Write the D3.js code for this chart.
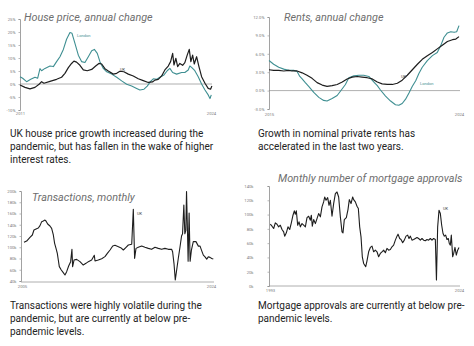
<!DOCTYPE html>
<html><head><meta charset="utf-8">
<script src="https://cdn.jsdelivr.net/npm/d3@7"></script>
<style>
html,body{margin:0;padding:0;background:#fff;}
svg{display:block;}
</style></head>
<body>
<svg id="c" width="474" height="346"></svg>
<script>
// ---------- DATA ----------
// Panel 1: house price annual change (%)
const hpUKYears = [2011.0,2011.34,2011.68,2012.02,2012.32,2012.47,2012.63,2013.04,2013.49,2013.83,2014.06,2014.29,2014.51,2014.67,2014.85,2015.08,2015.31,2015.58,2015.88,2016.15,2016.37,2016.56,2016.78,2017.01,2017.35,2017.58,2017.8,2018.07,2018.37,2018.71,2019.05,2019.39,2019.73,2020.02,2020.18,2020.41,2020.64,2020.86,2021.09,2021.25,2021.39,2021.48,2021.61,2021.73,2021.88,2022.07,2022.22,2022.38,2022.52,2022.63,2022.75,2022.86,2023.02,2023.18,2023.36,2023.59,2023.81,2023.97,2024.06];
const hpUK = [-0.4,-1.3,-1.9,-1.3,0.0,0.9,0.3,1.0,1.8,2.6,4.1,6.3,7.9,8.8,8.4,7.2,5.4,5.1,5.6,6.9,7.9,7.7,5.9,5.0,3.8,4.1,4.9,4.7,3.8,3.1,2.0,1.3,0.6,0.8,1.5,1.8,3.1,5.4,6.9,8.6,11.8,7.3,9.9,6.7,7.9,7.2,8.2,11.1,13.3,8.6,11.1,7.7,10.5,6.7,2.8,0.3,-1.7,-2.0,-0.8];
const hpLondonYears = [2011.0,2011.18,2011.45,2011.73,2012.02,2012.2,2012.36,2012.47,2012.7,2013.04,2013.27,2013.49,2013.72,2013.95,2014.17,2014.4,2014.54,2014.74,2014.97,2015.2,2015.42,2015.65,2015.88,2016.06,2016.26,2016.44,2016.67,2016.9,2017.24,2017.58,2017.92,2018.26,2018.6,2018.94,2019.16,2019.44,2019.66,2019.89,2020.07,2020.3,2020.52,2020.8,2021.02,2021.2,2021.39,2021.66,2022.0,2022.22,2022.45,2022.56,2022.68,2022.9,2023.13,2023.36,2023.59,2023.81,2023.93,2024.02];
const hpLondon = [2.8,2.2,0.9,1.8,2.6,2.2,5.9,5.1,6.0,6.9,6.7,8.6,10.5,13.3,17.2,19.8,19.5,15.6,11.1,8.6,8.3,10.5,12.8,13.3,11.8,8.6,6.0,4.7,3.8,2.6,1.2,-0.1,-0.8,-1.7,-2.3,-2.0,-0.8,1.0,2.0,1.8,2.6,3.5,5.1,6.0,4.4,3.8,4.4,4.4,5.4,6.9,6.4,5.1,2.8,0.0,-2.3,-4.2,-5.6,-4.2];
const hpTicks = [-10,-5,0,5,10,15,20,25];
const hpYearTicks = [2011,2024];

// Panel 2: rents annual change (%)
const rentUKYears = [2015.0,2015.22,2015.46,2015.7,2015.93,2016.09,2016.33,2016.57,2016.8,2017.04,2017.28,2017.52,2017.75,2017.99,2018.23,2018.47,2018.7,2018.94,2019.18,2019.41,2019.65,2019.89,2020.13,2020.36,2020.6,2020.84,2021.08,2021.31,2021.55,2021.79,2022.03,2022.26,2022.5,2022.74,2022.97,2023.21,2023.45,2023.69,2023.85,2024.0];
const rentUK = [3.4,3.3,3.3,3.2,3.3,3.2,3.2,2.9,2.5,2.0,1.3,0.9,0.7,0.8,1.0,1.4,1.9,2.2,2.3,2.2,2.1,1.9,1.4,1.1,1.0,1.0,1.2,1.7,2.5,3.4,4.3,5.1,5.7,6.2,6.8,7.4,8.0,8.3,8.4,8.8];
const rentLondonYears = [2015.0,2015.22,2015.46,2015.7,2015.93,2016.17,2016.33,2016.46,2016.57,2016.72,2016.88,2017.12,2017.36,2017.59,2017.75,2017.99,2018.23,2018.47,2018.62,2018.78,2019.02,2019.26,2019.49,2019.73,2019.97,2020.13,2020.28,2020.52,2020.76,2020.99,2021.15,2021.31,2021.47,2021.63,2021.79,2021.95,2022.1,2022.26,2022.5,2022.74,2022.97,2023.13,2023.29,2023.45,2023.61,2023.77,2023.89,2024.0];
const rentLondon = [4.9,4.3,3.8,3.5,3.3,3.3,3.1,2.3,1.9,1.3,0.7,-0.3,-1.1,-1.6,-1.7,-1.3,-0.8,0.3,1.0,2.1,2.4,2.5,2.5,2.3,1.4,0.8,0.1,-0.9,-1.7,-2.3,-2.4,-2.1,-1.4,-0.4,0.7,1.6,2.8,3.8,4.9,5.7,6.2,7.3,8.7,9.4,9.6,9.5,9.6,10.6];
const rentTicks = [-3,0,3,6,9,12];
const rentYearTicks = [2015,2024];

// Panel 3: transactions, monthly (thousands)
const txYears = [2005.2,2005.47,2005.8,2006.04,2006.2,2006.47,2006.64,2006.81,2006.98,2007.14,2007.31,2007.41,2007.58,2007.81,2007.98,2008.15,2008.28,2008.42,2008.55,2008.65,2008.75,2008.95,2009.15,2009.32,2009.49,2009.69,2009.89,2010.02,2010.09,2010.23,2010.49,2010.83,2011.16,2011.43,2011.67,2012.0,2012.27,2012.34,2012.67,2013.01,2013.34,2013.58,2013.85,2014.12,2014.35,2014.69,2014.92,2015.19,2015.46,2015.69,2016.03,2016.19,2016.32,2016.46,2016.69,2017.03,2017.36,2017.7,2018.03,2018.37,2018.7,2019.04,2019.37,2019.71,2020.04,2020.14,2020.28,2020.41,2020.71,2020.88,2021.04,2021.14,2021.27,2021.37,2021.47,2021.54,2021.64,2021.7,2021.8,2021.9,2022.03,2022.22,2022.49,2022.73,2022.9,2023.06,2023.23,2023.4,2023.57,2023.73,2023.9,2024.07,2024.23];
const txValues = [108.7,111,117.6,121.8,130.7,133,134.2,138.4,145.5,146.7,148.4,146.7,141.3,137.8,133.6,121.8,107,98,89.2,77.3,65.5,59.6,54.8,50.7,56.6,66.7,74.4,96.3,65.5,77.3,78.5,74.4,68.4,71.4,74.4,77.3,85.6,75.6,77.3,79.7,83.3,89.2,95.1,102.2,103.4,101,99.3,95.1,99.9,104,105.2,167.4,80.3,98,99.9,102.2,99.9,98,96.3,99.9,98,96.3,98,96.3,96.3,92,71,42,80,100,120,124,175,124,130,199,125,75,161,75,95,110,110,102,102,94,86,83,79,83,82,80,79];
const txTicks = [40,60,80,100,120,140,160,180,200];
const txYearTicks = [2005,2024];

// Panel 4: monthly number of mortgage approvals (thousands)
const maYears = [1993.05,1993.33,1993.6,1993.87,1994.15,1994.42,1994.69,1994.97,1995.24,1995.41,1995.68,1995.95,1996.23,1996.5,1996.77,1996.99,1997.16,1997.32,1997.54,1997.76,1997.98,1998.25,1998.52,1998.8,1999.07,1999.34,1999.62,1999.78,1999.94,2000.16,2000.44,2000.71,2000.98,2001.26,2001.53,2001.8,2001.97,2002.19,2002.46,2002.68,2002.9,2003.17,2003.44,2003.72,2003.99,2004.26,2004.54,2004.81,2004.97,2005.19,2005.52,2005.79,2006.01,2006.29,2006.56,2006.72,2007.0,2007.27,2007.49,2007.71,2007.93,2008.14,2008.36,2008.7,2008.91,2009.18,2009.46,2009.73,2010.0,2010.28,2010.55,2010.82,2011.1,2011.37,2011.64,2011.92,2012.19,2012.46,2012.74,2013.01,2013.28,2013.56,2013.83,2014.0,2014.27,2014.49,2014.76,2015.03,2015.31,2015.58,2015.8,2016.02,2016.29,2016.56,2016.84,2017.11,2017.38,2017.66,2017.93,2018.2,2018.48,2018.75,2019.02,2019.3,2019.57,2019.84,2020.12,2020.3,2020.5,2020.72,2020.94,2021.16,2021.38,2021.59,2021.81,2022.03,2022.25,2022.41,2022.58,2022.74,2022.96,2023.13,2023.34,2023.56,2023.78,2024.0];
const maValues = [86.5,83.7,80.5,88.4,86.5,82.8,85.1,79.1,75.8,69.8,74.4,82.8,79.1,88.4,99.1,105.2,100.5,105.2,85.1,89.8,82.8,87.4,85.1,82.8,95.8,97.7,92.1,99.1,83.7,93,87.4,94.4,101.4,96.8,110.7,117.7,124.6,120,123.7,113,120,97.7,115.4,129.3,131.6,124.6,96.8,75.8,74.4,93,95.8,107,120.9,115.4,124.6,120.9,117.7,111.6,108.4,82.8,68.8,40.9,31.6,27,35.3,47.9,54,55.8,47.9,50.2,47.9,40.9,45.6,47.9,50.2,46.5,52.6,50.2,51.2,54.9,57.2,64.2,69.8,72.6,66.5,65.1,60.5,64.2,69.8,71.2,66.5,69.8,64.2,65.1,66.5,67.9,66.5,64.2,66.5,64.2,63.3,65.1,64.2,66.5,64.2,66.5,65.1,8.5,82.8,106,101.4,85.1,73.5,69.8,71.2,65.1,66.5,59.5,57.2,71.2,40.9,45.6,54,43.3,50.2,54];
const maTicks = [0,20,40,60,80,100,120,140];
const maYearTicks = [1993,2024];

// Text
const titles = ["House price, annual change","Rents, annual change","Transactions, monthly","Monthly number of mortgage approvals"];
const captions = [
  ["UK house price growth increased during the","pandemic, but has fallen in the wake of higher","interest rates."],
  ["Growth in nominal private rents has","accelerated in the last two years."],
  ["Transactions were highly volatile during the","pandemic, but are currently at below pre-","pandemic levels."],
  ["Mortgage approvals are currently at below pre-","pandemic levels."]
];

// ---------- DRAW ----------
const svg = d3.select("#c");
svg.append("rect").attr("width",474).attr("height",346).attr("fill","#fff");
const TEAL = "#3f8f92", DARK = "#1e1e1e", AX = "#8a8a8a";
const tickFont = "Roboto, 'Liberation Sans', sans-serif";

function yAxis(g, y, ticks, fmt, x, labelX){
  const a = g.append("g").attr("transform",`translate(${x},0)`)
    .call(d3.axisLeft(y).tickValues(ticks).tickFormat(fmt).tickSize(1.5).tickPadding(labelX));
  a.select(".domain").attr("stroke",AX).attr("stroke-width",0.8);
  a.selectAll(".tick line").attr("stroke",AX).attr("stroke-width",0.6);
  a.selectAll("text").attr("font-size",4.2).attr("fill","#7a7a7a").attr("font-family",tickFont);
}
function xLabels(g, x, ticks, yPos){
  const a = g.append("g").attr("transform",`translate(0,${yPos})`)
    .call(d3.axisBottom(x).tickValues(ticks).tickFormat(d3.format("d")).tickSize(0).tickPadding(0));
  a.select(".domain").remove();
  a.selectAll("text").attr("font-size",4.2).attr("fill","#7a7a7a").attr("font-family",tickFont);
}
function line(g, x, y, xs, ys, color, w){
  const pts = d3.zip(xs, ys);
  g.append("path").datum(pts)
    .attr("d", d3.line().x(d=>x(d[0])).y(d=>y(d[1])).curve(d3.curveLinear))
    .attr("fill","none").attr("stroke",color).attr("stroke-width",w).attr("stroke-linejoin","round");
}
function title(txt, x, y){
  svg.append("text").text(txt).attr("x",x).attr("y",y)
    .attr("font-family","Roboto, 'Open Sans', sans-serif").attr("font-style","italic").attr("font-weight",400)
    .attr("font-size",10.8).attr("fill","#6e6e6e");
}
function caption(lines, x, y0){
  lines.forEach((l,i)=>{
    svg.append("text").text(l).attr("x",x).attr("y",y0+i*13.2)
      .attr("font-family","Roboto, 'Liberation Sans', sans-serif").attr("font-size",10).attr("fill","#232323");
  });
}
function small(txt,x,y,color){
  svg.append("text").text(txt).attr("x",x).attr("y",y).attr("font-size",4).attr("fill",color||"#777")
    .attr("font-family",tickFont);
}

// Panel 1
{
  const g = svg.append("g");
  const x = d3.scaleLinear([2011,2024],[20,211]);
  const y = d3.scaleLinear([-10,25],[110,19]);
  g.append("line").attr("x1",20).attr("x2",212).attr("y1",y(0)).attr("y2",y(0)).attr("stroke","#9a9a9a").attr("stroke-width",0.8);
  yAxis(g, y, hpTicks, d=>d+"%", 20, 3);
  xLabels(g, x, hpYearTicks, 112);
  line(g, x, y, hpLondonYears, hpLondon, TEAL, 1.1);
  line(g, x, y, hpUKYears, hpUK, DARK, 1.2);
  small("London", 77, 36.5, TEAL);
  small("UK", 120, 70.5, "#444");
  title(titles[0], 24, 20.5);
  caption(captions[0], 10, 137);
}
// Panel 2
{
  const g = svg.append("g");
  const x = d3.scaleLinear([2015,2024],[269,459]);
  const y = d3.scaleLinear([-3,12],[109,17]);
  g.append("line").attr("x1",269).attr("x2",460).attr("y1",y(0)).attr("y2",y(0)).attr("stroke","#9a9a9a").attr("stroke-width",0.8);
  yAxis(g, y, rentTicks, d=>d.toFixed(1)+"%", 269, 3);
  xLabels(g, x, rentYearTicks, 113);
  line(g, x, y, rentLondonYears, rentLondon, TEAL, 1.1);
  line(g, x, y, rentUKYears, rentUK, DARK, 1.2);
  small("UK", 401, 77.5, "#444");
  small("London", 420, 84.5, TEAL);
  title(titles[1], 284, 20.5);
  caption(captions[1], 258, 137);
}
// Panel 3
{
  const g = svg.append("g");
  const x = d3.scaleLinear([2005,2024],[22,211]);
  const y = d3.scaleLinear([40,200],[281,191]);
  g.append("line").attr("x1",21).attr("x2",214).attr("y1",282).attr("y2",282).attr("stroke","#9a9a9a").attr("stroke-width",0.8);
  yAxis(g, y, txTicks, d=>d+"k", 21, 3);
  xLabels(g, x, txYearTicks, 285);
  line(g, x, y, txYears, txValues, DARK, 1.1);
  small("UK", 137, 215, "#444");
  title(titles[2], 32, 201);
  caption(captions[2], 10, 309);
}
// Panel 4
{
  const g = svg.append("g");
  const x = d3.scaleLinear([1993,2024],[270,459]);
  const y = d3.scaleLinear([0,140],[286,186]);
  g.append("line").attr("x1",269).attr("x2",460).attr("y1",286).attr("y2",286).attr("stroke","#9a9a9a").attr("stroke-width",0.8);
  yAxis(g, y, maTicks, d=>d+"k", 269, 14);
  xLabels(g, x, maYearTicks, 289);
  line(g, x, y, maYears, maValues, DARK, 1.1);
  small("UK", 443, 210, "#444");
  title(titles[3], 278, 182);
  caption(captions[3], 258, 309);
}
</script>
</body></html>
